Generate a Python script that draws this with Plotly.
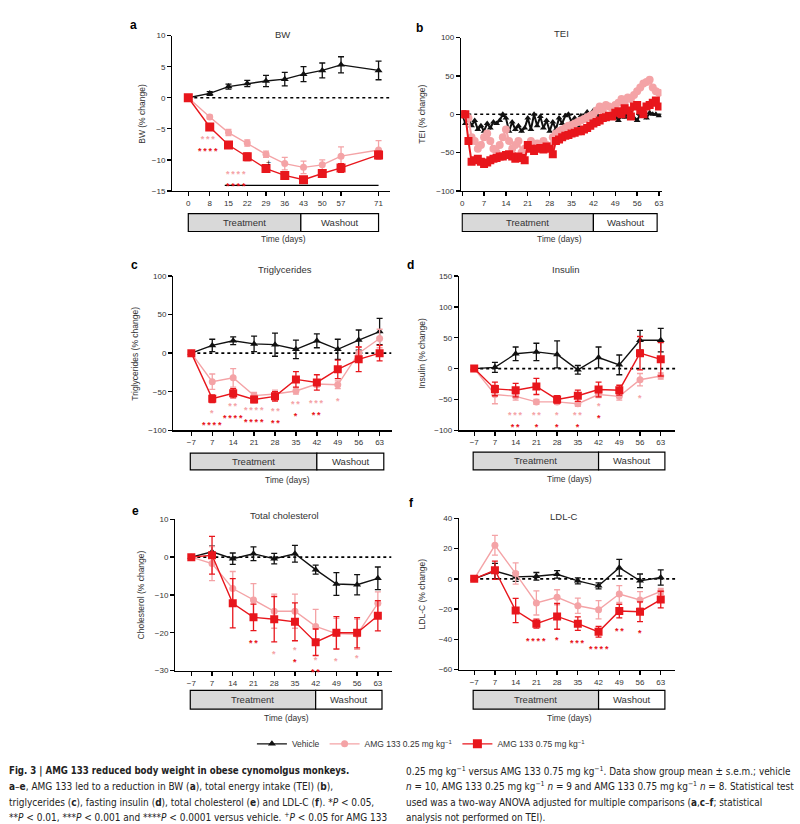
import plotly.graph_objects as go

W, H = 800, 824


def px(x):
    return x / W


def py(y):
    return 1 - y / H


BLACK = '#111111'
PINK = '#F4A3A6'
RED = '#E8161C'
FONT = 'Liberation Sans, Arial, sans-serif'
CAPFONT = 'Liberation Sans Narrow, DejaVu Sans Condensed, Arial Narrow, sans-serif'

# ---------------- data ----------------
# a: body weight
bw_days = [0, 8, 15, 22, 29, 36, 43, 50, 57, 71]
bw_veh = [0, 0.7, 1.8, 2.3, 2.7, 3.0, 3.8, 4.4, 5.3, 4.4]
bw_veh_err = [0, 0.3, 0.4, 0.5, 0.9, 1.1, 1.2, 1.2, 1.3, 1.5]
bw_low = [0, -3.1, -5.6, -7.3, -9.1, -10.6, -11.2, -10.8, -9.4, -8.4]
bw_low_err = [0, 0.3, 0.5, 0.5, 0.5, 1.0, 1.0, 0.8, 1.5, 1.5]
bw_high = [0, -4.7, -7.6, -9.5, -11.4, -12.5, -13.2, -12.2, -11.3, -9.2]
bw_high_err = [0, 0.3, 0.4, 0.6, 0.3, 0.5, 0.5, 0.6, 0.7, 0.6]
bw_stars_low = [(7.3, -6.4, '***'), (17.7, -12.0, '****')]
bw_stars_high = [(7.3, -7.8, '****'), (17.7, -13.4, '****')]
bw_plus = [(30, -10.5, '+')]
bw_sigbar = [13.6, 71, -14.1]

# b: total energy intake (daily)
tei_days = [0, 1, 2, 3, 4, 5, 6, 7, 8, 9, 10, 11, 12, 13, 14, 15, 16, 17, 18, 19,
            20, 21, 22, 23, 24, 25, 26, 27, 28, 29, 30, 31, 32, 33, 34, 35, 36, 37, 38, 39,
            40, 41, 42, 43, 44, 45, 46, 47, 48, 49, 50, 51, 52, 53, 54, 55, 56, 57, 58, 59,
            60, 61, 62, 63]
tei_veh = [0, -12, -5, -15, -8, -20, -15, -22, -12, -18,
           -10, -12, -8, 0, -5, -22, -10, -20, -15, -22,
           -18, -5, -20, 0, -15, -3, -18, -8, -22, -10,
           -20, -5, -12, -2, 0, -10, -5, -15, -2, -8,
           3, -5, 5, 0, -5, -2, -5, -3, -5, -3,
           -8, -2, -4, 0, 2, -5, -8, 0, -3, -5,
           2, 0, 0, -2]
tei_low = [0, 0, -5, -30, -35, -45, -40, -30, -25, -35,
           -45, -50, -40, -30, -20, -35, -45, -40, -35, -50,
           -45, -40, -35, -42, -38, -40, -35, -40, -42, -30,
           -25, -22, -20, -18, -15, -14, -12, -10, -8, -6,
           -4, -2, 0, 5, 10, 5, 12, 10, 8, 12,
           15, 20, 15, 22, 20, 25, 30, 35, 40, 42,
           45, 35, 30, 28]
tei_high = [0, 0, -35, -62, -60, -58, -62, -65, -63, -60,
            -58, -57, -55, -55, -53, -52, -55, -58, -55, -57,
            -60, -40, -45, -48, -45, -44, -46, -42, -45, -52,
            -35, -33, -30, -28, -27, -25, -24, -22, -22, -20,
            -18, -15, -12, -10, -8, -5, -4, -2, -3, 2,
            4, 0, 8, 5, -3, 10, 12, 5, 0, 10,
            12, 15, 18, 10]

# c-f share sampling days (equally spaced categories)
lab_days = ['\u22127', '7', '14', '21', '28', '35', '42', '49', '56', '63']

# c: triglycerides
tg_veh = [0, 10, 16, 12, 11, 5, 16, 5, 17, 28]
tg_veh_err = [0, 8, 5, 10, 15, 12, 9, 13, 13, 17]
tg_low = [0, -37, -32, -55, -53, -49, -40, -41, 0, 19]
tg_low_err = [0, 10, 12, 4, 5, 4, 4, 5, 8, 12]
tg_high = [0, -59, -52, -60, -56, -34, -38, -21, -8, 0]
tg_high_err = [0, 5, 6, 4, 6, 10, 10, 12, 16, 10]
tg_stars_low = [(1, -77, '*'), (2, -68, '**'), (3, -73, '****'), (4, -74, '**'),
                (5, -65, '**'), (6, -64, '***'), (7, -58, '*')]
tg_stars_high = [(1, -87, '****'), (2, -78, '****'), (3, -83, '****'), (4, -84, '**'),
                 (5, -75, '*'), (6, -73, '**')]

# d: insulin
ins_veh = [0, 2, 24, 27, 23, -2, 18, 6, 46, 46]
ins_veh_err = [0, 8, 11, 14, 22, 7, 17, 16, 16, 19]
ins_low = [0, -42, -45, -54, -54, -57, -42, -45, -18, -12]
ins_low_err = [0, 15, 6, 4, 4, 4, 5, 6, 10, 5]
ins_high = [0, -33, -35, -29, -50, -44, -34, -35, 25, 15]
ins_high_err = [0, 11, 11, 13, 6, 9, 12, 8, 27, 27]
ins_stars_low = [(2, -73, '***'), (3, -74, '**'), (4, -74, '*'), (5, -74, '**'),
                 (6, -59, '*'), (8, -43, '*')]
ins_stars_high = [(2, -87, '**'), (3, -85, '*'), (4, -87, '*'), (5, -85, '*'),
                  (6, -72, '*')]

# e: total cholesterol
tc_veh = [0, 1.4, -0.4, 0.9, -0.4, 0.9, -3.3, -7.1, -7.3, -5.6]
tc_veh_err = [0, 1.5, 1.5, 1.8, 1.4, 2.2, 1.2, 3.0, 2.7, 3.0]
tc_low = [0, -1.7, -8.3, -11.3, -14.3, -14.3, -18.3, -20.2, -20.4, -12.2]
tc_low_err = [0, 4.5, 4.5, 4.3, 4.5, 4.5, 4.5, 4.0, 4.0, 3.0]
tc_high = [0, 0.5, -12.2, -15.9, -16.4, -17.1, -22.5, -20.0, -20.0, -15.5]
tc_high_err = [0, 5.0, 6.5, 3.5, 6.0, 5.0, 3.5, 4.3, 4.0, 4.0]
tc_stars_low = [(4, -24.7, '*'), (5, -24.3, '*'), (6, -27.1, '*'), (7, -26.7, '*'),
                (8, -25.8, '*')]
tc_stars_high = [(3, -21.9, '**'), (5, -26.4, '*'), (6, -29.1, '**')]

# f: LDL-C
ldl_veh = [0, 5.2, 1.3, 1.7, 3.0, -1.3, -4.6, 7.4, -1.3, 0.9]
ldl_veh_err = [0, 5, 3, 2.5, 2.5, 2, 2, 5.5, 4.5, 5]
ldl_low = [0, 22.2, 3.5, -15.9, -12.2, -17.8, -20.4, -10.0, -13.9, -8.3]
ldl_low_err = [0, 6.5, 7, 8, 5, 5, 6, 5.5, 5.5, 2]
ldl_high = [0, 5.7, -20.9, -29.6, -24.8, -29.6, -35.0, -21.3, -21.7, -13.7]
ldl_high_err = [0, 6, 8, 3, 8.5, 4.5, 3.5, 4.5, 6.5, 5.5]
ldl_stars_low = []
ldl_stars_high = [(3, -39.3, '****'), (4, -38.3, '*'), (5, -40.4, '***'),
                  (6, -44.3, '****'), (7, -32.2, '**'), (8, -33.9, '*')]

# study phases (treatment start, treatment end / washout start, washout end)
phase_a = [0, 42, 71]
phase_b = [0, 42, 62.4]
phase_cat = [-0.05, 6, 9.2]

series_names = ['Vehicle', 'AMG 133 0.25 mg kg<sup>\u22121</sup>',
                'AMG 133 0.75 mg kg<sup>\u22121</sup>']

# ---------------- figure ----------------
fig = go.Figure()

STY = [
    dict(color=BLACK, symbol='triangle-up', size=7),
    dict(color=PINK, symbol='circle', size=7),
    dict(color=RED, symbol='square', size=8),
]


def add(ax, x, ys, errs, legend=False, lw=1.4, msize=None):
    for i, (y, e) in enumerate(zip(ys, errs)):
        st = STY[i]
        kw = {}
        if e is not None:
            kw['error_y'] = dict(type='data', array=e, visible=True, color=st['color'],
                                 thickness=1.3, width=3)
        fig.add_trace(go.Scatter(
            x=x, y=y, mode='lines+markers', name=series_names[i],
            legendgroup=str(i), showlegend=legend,
            line=dict(color=st['color'], width=lw),
            marker=dict(color=st['color'], symbol=st['symbol'],
                        size=msize[i] if msize else st['size'], line=dict(width=0)),
            xaxis='x' + ('' if ax == 1 else str(ax)),
            yaxis='y' + ('' if ax == 1 else str(ax)),
            hoverinfo='skip', **kw))


cat_x = list(range(len(lab_days)))
add(1, bw_days, [bw_veh, bw_low, bw_high], [bw_veh_err, bw_low_err, bw_high_err],
    legend=True, msize=[7, 7, 9])
add(2, tei_days, [tei_veh, tei_low, tei_high], [None, None, None], lw=2.0, msize=[6, 8, 8])
add(3, cat_x, [tg_veh, tg_low, tg_high], [tg_veh_err, tg_low_err, tg_high_err])
add(4, cat_x, [ins_veh, ins_low, ins_high], [ins_veh_err, ins_low_err, ins_high_err])
add(5, cat_x, [tc_veh, tc_low, tc_high], [tc_veh_err, tc_low_err, tc_high_err])
add(6, cat_x, [ldl_veh, ldl_low, ldl_high], [ldl_veh_err, ldl_low_err, ldl_high_err])

# panel geometry in pixels: (left, right, top, bottom)
panels = {
    1: dict(box=(172, 390, 32, 189), xr=[-5.95, 75.1], yr=[-15, 10], yt=[-15, -10, -5, 0, 5, 10],
            xt=bw_days, xl=[str(d) for d in bw_days], phase=phase_a,
            band=(212, 230), tlab=238, title='BW', tpos=(283, 31), letter='a', lpos=(133, 21),
            ytitle='BW (% change)', ytx=142, x0=0),
    2: dict(box=(462, 663, 34, 189), xr=[-0.3, 63.8], yr=[-100, 100], yt=[-100, -50, 0, 50, 100],
            xt=[0, 7, 14, 21, 28, 35, 42, 49, 56, 63], xl=None, phase=phase_b,
            band=(212, 230), tlab=238, title='TEI', tpos=(563, 30), letter='b', lpos=(420, 24),
            ytitle='TEI (% change)', ytx=423, x0=0),
    3: dict(box=(173, 392, 275, 431), xr=[-0.86, 9.57], yr=[-100, 100], yt=[-100, -50, 0, 50, 100],
            xt=cat_x, xl=lab_days, phase=phase_cat,
            band=(454, 471), tlab=481, title='Triglycerides', tpos=(285, 268), letter='c',
            lpos=(134, 264), ytitle='Triglycerides (% change)', ytx=135, x0=0),
    4: dict(box=(460, 677, 275, 431), xr=[-0.72, 9.71], yr=[-100, 150],
            yt=[-100, -50, 0, 50, 100, 150], xt=cat_x, xl=lab_days, phase=phase_cat,
            band=(453, 471), tlab=480, title='Insulin', tpos=(567, 268), letter='d',
            lpos=(411, 264), ytitle='Insulin (% change)', ytx=423, x0=0),
    5: dict(box=(175, 392, 521, 674), xr=[-0.77, 9.66], yr=[-30, 10], yt=[-30, -20, -10, 0, 10],
            xt=cat_x, xl=lab_days, phase=phase_cat,
            band=(694, 713), tlab=722, title='Total cholesterol', tpos=(285, 517), letter='e',
            lpos=(135, 513), ytitle='Cholesterol (% change)', ytx=140, x0=0),
    6: dict(box=(460, 677, 520, 673), xr=[-0.72, 9.71], yr=[-60, 40],
            yt=[-60, -40, -20, 0, 20, 40], xt=cat_x, xl=lab_days, phase=phase_cat,
            band=(694, 713), tlab=722, title='LDL-C', tpos=(565, 518), letter='f',
            lpos=(412, 505), ytitle='LDL-C (% change)', ytx=423, x0=0),
}

shapes = []
annos = []
axis_common = dict(showline=True, linecolor='black', linewidth=1.4, ticks='outside',
                   ticklen=4, tickwidth=1.3, tickcolor='black',
                   tickfont=dict(size=8, color='#333333', family=FONT),
                   showgrid=False, zeroline=False, fixedrange=True)


def txt(text, x, y, xref='paper', yref='paper', size=9, color='#333', xanchor='center',
        yanchor='middle', **kw):
    d = dict(text=text, xref=xref, yref=yref, x=x, y=y, showarrow=False,
             xanchor=xanchor, yanchor=yanchor,
             font=dict(size=size, color=color, family=kw.pop('family', FONT)))
    d.update(kw)
    annos.append(d)


layout_axes = {}
for k, p in panels.items():
    l, r, t, b = p['box']
    sx = '' if k == 1 else str(k)
    xa = dict(axis_common, domain=[px(l), px(r)], range=p['xr'], anchor='y' + sx,
              tickvals=p['xt'])
    if p['xl'] is not None:
        xa['ticktext'] = p['xl']
    ya = dict(axis_common, domain=[py(b), py(t)], range=p['yr'], anchor='x' + sx,
              tickvals=p['yt'], ticktext=[str(v).replace('-', '\u2212') for v in p['yt']])
    layout_axes['xaxis' + sx] = xa
    layout_axes['yaxis' + sx] = ya
    xref, yref = 'x' + sx, 'y' + sx
    # dotted zero line
    shapes.append(dict(type='line', xref=xref, yref=yref, x0=p['x0'], x1=p['xr'][1], y0=0, y1=0,
                       line=dict(color='black', width=1.6, dash='dot'), layer='below'))
    # phase boxes
    ph = p['phase']
    b0, b1 = p['band']
    shapes.append(dict(type='rect', xref=xref, yref='paper', x0=ph[0], x1=ph[1],
                       y0=py(b1), y1=py(b0), fillcolor='#D9D9D9',
                       line=dict(color='black', width=1.2)))
    shapes.append(dict(type='rect', xref=xref, yref='paper', x0=ph[1], x1=ph[2],
                       y0=py(b1), y1=py(b0), fillcolor='white',
                       line=dict(color='black', width=1.2)))
    ymid = py((b0 + b1) / 2)
    txt('Treatment', (ph[0] + ph[1]) / 2, ymid, xref=xref, size=9.5)
    txt('Washout', (ph[1] + ph[2]) / 2, ymid, xref=xref, size=9.5)
    txt('Time (days)', (ph[0] + ph[2]) / 2, py(p['tlab']), xref=xref, size=8.5)
    txt(p['title'], px(p['tpos'][0]), py(p['tpos'][1]), size=9.5)
    txt('<b>' + p['letter'] + '</b>', px(p['lpos'][0]), py(p['lpos'][1]), size=12,
        color='black')
    txt(p['ytitle'], px(p['ytx']), py((t + b) / 2), size=8.5, textangle=-90)


def spaced(s):
    return '<b>' + '\u2009'.join(list(s)) + '</b>'


def stars(ax, low, high, size=9):
    """Significance marks: pink row (0.25 vs vehicle) above red row (0.75 vs vehicle)."""
    sx = '' if ax == 1 else str(ax)
    by_x = {}
    for x, y, s in low:
        by_x.setdefault(x, {})['low'] = (y, s)
    for x, y, s in high:
        by_x.setdefault(x, {})['high'] = (y, s)
    for x, d in by_x.items():
        if 'low' in d and 'high' in d:
            text = ('<span style="color:%s">%s</span><br><span style="color:%s">%s</span>'
                    % (PINK, spaced(d['low'][1]), RED, spaced(d['high'][1])))
            y = (d['low'][0] + d['high'][0]) / 2
            color = RED
        elif 'low' in d:
            text, y, color = spaced(d['low'][1]), d['low'][0], PINK
        else:
            text, y, color = spaced(d['high'][1]), d['high'][0], RED
        txt(text, x, y, xref='x' + sx, yref='y' + sx, size=size, color=color, yshift=-3)


stars(1, bw_stars_low, bw_stars_high)
for x, y, s in bw_plus:
    txt(s, x, y, xref='x', yref='y', size=9, color=BLACK)
stars(3, tg_stars_low, tg_stars_high)
stars(4, ins_stars_low, ins_stars_high)
stars(5, tc_stars_low, tc_stars_high)
stars(6, ldl_stars_low, ldl_stars_high)

shapes.append(dict(type='line', xref='x', yref='y', x0=bw_sigbar[0], x1=bw_sigbar[1],
                   y0=bw_sigbar[2], y1=bw_sigbar[2], line=dict(color='black', width=1.3)))

# caption
cap_left = [
    '<b>Fig. 3 | AMG 133 reduced body weight in obese cynomolgus monkeys.</b>',
    '<b>a</b>\u2013<b>e</b>, AMG 133 led to a reduction in BW (<b>a</b>), total energy intake (TEI) (<b>b</b>),',
    'triglycerides (<b>c</b>), fasting insulin (<b>d</b>), total cholesterol (<b>e</b>) and LDL-C (<b>f</b>). *<i>P</i> < 0.05,',
    '**<i>P</i> < 0.01, ***<i>P</i> < 0.001 and ****<i>P</i> < 0.0001 versus vehicle. <sup>+</sup><i>P</i> < 0.05 for AMG 133',
]
cap_right = [
    '0.25 mg kg<sup>\u22121</sup> versus AMG 133 0.75 mg kg<sup>\u22121</sup>. Data show group mean \u00b1 s.e.m.; vehicle',
    '<i>n</i> = 10, AMG 133 0.25 mg kg<sup>\u22121</sup> <i>n</i> = 9 and AMG 133 0.75 mg kg<sup>\u22121</sup> <i>n</i> = 8. Statistical test',
    'used was a two-way ANOVA adjusted for multiple comparisons (<b>a</b>,<b>c</b>\u2013<b>f</b>; statistical',
    'analysis not performed on TEI).',
]
cap_y = [775, 791, 807, 822]
cap_sizes = [9.6, 10, 10, 10]
for i, line in enumerate(cap_left):
    txt(line, px(6), py(cap_y[i]), size=cap_sizes[i], color='#222', xanchor='left',
        family=CAPFONT)
for i, line in enumerate(cap_right):
    txt(line, px(405), py(cap_y[i]), size=9.9, color='#222', xanchor='left',
        family=CAPFONT)

fig.update_layout(
    width=W, height=H, margin=dict(l=0, r=0, t=0, b=0),
    paper_bgcolor='white', plot_bgcolor='white',
    font=dict(family=FONT, color='#333'),
    showlegend=True,
    legend=dict(orientation='h', x=px(422), y=py(748), xanchor='center', yanchor='middle',
                font=dict(size=8.5, color='#333', family=FONT), bgcolor='rgba(0,0,0,0)',
                itemwidth=30, tracegroupgap=0),
    shapes=shapes, annotations=annos,
    **layout_axes,
)

fig.write_html('out.html', config={'displayModeBar': False, 'staticPlot': True},
               post_script="document.body.style.margin='0';document.body.style.overflow='hidden';")
